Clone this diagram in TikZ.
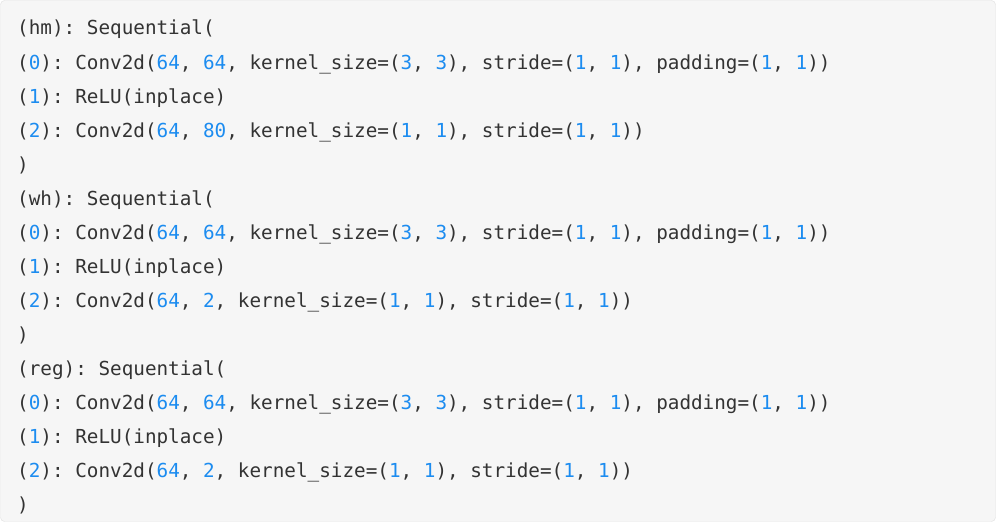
\documentclass[tikz,border=0pt]{standalone}
\usepackage{fontspec}
\setmonofont{DejaVu Sans Mono}
\definecolor{bgc}{HTML}{F6F6F6}
\definecolor{txt}{HTML}{333333}
\definecolor{num}{HTML}{1C8CF0}
\newcommand{\nm}[1]{\textcolor{num}{#1}}
\begin{document}
\begin{tikzpicture}[x=1pt,y=1pt,
  ln/.style={anchor=base west,inner sep=0pt,font=\ttfamily\fontsize{19.3}{22}\selectfont,text=txt}]
\useasboundingbox (0,0) rectangle (996,522);
\draw[draw=gray!25,fill=bgc,rounded corners=4pt] (0.5,0.5) rectangle (995.5,521.5);
\def\L#1#2{\node[ln] (l#1) at (17,{522-28-(#1-1)*34.07-7}) {#2};}
\L{1}{(hm): Sequential(}
\L{2}{(\nm{0}): Conv2d(\nm{64}, \nm{64}, kernel\_size=(\nm{3}, \nm{3}), stride=(\nm{1}, \nm{1}), padding=(\nm{1}, \nm{1}))}
\L{3}{(\nm{1}): ReLU(inplace)}
\L{4}{(\nm{2}): Conv2d(\nm{64}, \nm{80}, kernel\_size=(\nm{1}, \nm{1}), stride=(\nm{1}, \nm{1}))}
\L{5}{)}
\L{6}{(wh): Sequential(}
\L{7}{(\nm{0}): Conv2d(\nm{64}, \nm{64}, kernel\_size=(\nm{3}, \nm{3}), stride=(\nm{1}, \nm{1}), padding=(\nm{1}, \nm{1}))}
\L{8}{(\nm{1}): ReLU(inplace)}
\L{9}{(\nm{2}): Conv2d(\nm{64}, \nm{2}, kernel\_size=(\nm{1}, \nm{1}), stride=(\nm{1}, \nm{1}))}
\L{10}{)}
\L{11}{(reg): Sequential(}
\L{12}{(\nm{0}): Conv2d(\nm{64}, \nm{64}, kernel\_size=(\nm{3}, \nm{3}), stride=(\nm{1}, \nm{1}), padding=(\nm{1}, \nm{1}))}
\L{13}{(\nm{1}): ReLU(inplace)}
\L{14}{(\nm{2}): Conv2d(\nm{64}, \nm{2}, kernel\_size=(\nm{1}, \nm{1}), stride=(\nm{1}, \nm{1}))}
\L{15}{)}
\end{tikzpicture}
\end{document}
